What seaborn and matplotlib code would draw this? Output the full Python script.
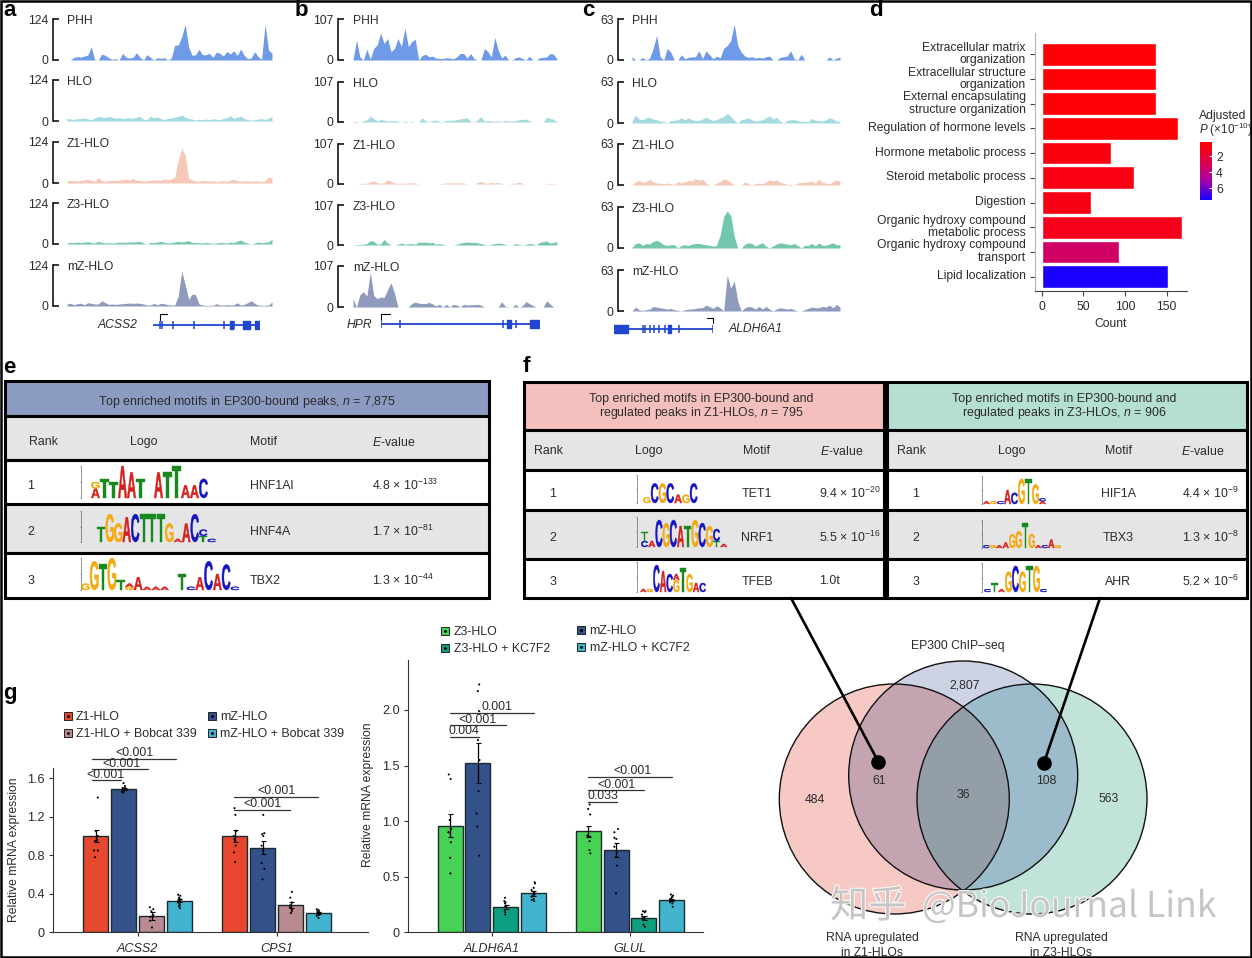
import re
import numpy as np
import pandas as pd
import seaborn as sns
import matplotlib
matplotlib.use("Agg")
import matplotlib.pyplot as plt
from matplotlib.patches import Rectangle, Circle, Polygon, PathPatch
from matplotlib.textpath import TextPath
from matplotlib.font_manager import FontProperties
from matplotlib.transforms import Affine2D, ScaledTranslation
from matplotlib.colors import LinearSegmentedColormap
import matplotlib.patheffects as pe

# ---------- data ----------
sample_names = ["PHH", "HLO", "Z1-HLO", "Z3-HLO", "mZ-HLO"]
track_colors = ["#6f9ae8", "#a5dbe0", "#f6c8b8", "#72c7ae", "#8f9bbd"]

a_max = 124
a_phh = [0,0,8,10,9,12,15,40,1,0,18,14,7,2,4,0,20,8,6,8,22,8,0,16,8,0,7,5,7,0,6,45,45,70,108,40,14,16,32,16,16,20,8,24,20,12,26,18,28,14,33,14,4,6,25,10,2,108,30,20]
a_hlo = [8,6,5,7,8,9,6,4,9,14,12,10,14,11,9,10,8,9,10,8,12,14,5,4,14,10,12,8,4,8,9,12,14,18,12,8,6,3,5,4,6,4,7,5,4,8,10,16,8,12,14,8,4,3,4,6,7,5,8,14]
a_z1 = [6,8,7,6,8,9,12,8,5,16,8,5,7,8,8,9,10,12,9,14,8,8,6,7,8,9,10,8,12,10,12,18,70,105,85,14,10,6,5,8,6,6,7,5,6,7,5,9,12,7,5,7,6,5,7,6,5,6,18,16]
a_z3 = [3,5,4,6,4,6,7,4,3,8,5,3,4,3,4,6,5,5,6,6,7,8,3,0,5,4,6,8,5,3,4,6,8,6,8,10,5,4,4,3,5,3,2,3,5,4,3,6,4,9,12,6,3,0,3,6,4,5,7,14]
a_mz = [6,8,4,7,8,4,10,8,6,6,16,10,5,6,5,6,7,8,9,8,9,8,6,3,3,8,4,8,7,4,3,3,30,105,65,20,36,34,6,3,2,2,2,7,3,3,4,3,4,10,3,5,10,16,8,3,2,2,3,12]

b_max = 107
b_phh = [0,52,8,0,28,3,30,40,70,43,56,22,30,56,35,84,35,48,54,0,12,15,8,10,5,4,4,6,5,3,8,17,17,5,17,4,0,0,30,22,8,59,26,5,13,0,0,6,8,4,0,10,0,0,6,7,8,17,15,2]
b_hlo = [1,2,0,3,6,16,9,3,7,5,3,3,4,2,0,3,0,2,0,0,11,3,0,4,5,2,0,4,5,5,6,8,10,11,2,0,5,15,2,4,3,2,3,1,4,3,2,4,6,7,8,3,0,0,0,0,13,10,7,1]
b_z1 = [0,0,1,2,2,6,8,3,2,3,11,7,3,2,2,2,3,3,3,0,0,0,0,0,0,0,2,3,3,3,3,3,3,0,0,0,4,7,3,2,4,3,4,1,0,0,2,2,5,2,0,0,0,0,0,0,1,2,1,1]
b_z3 = [0,1,2,2,4,12,10,2,3,15,5,0,0,2,5,2,3,4,2,8,7,8,6,7,2,4,2,0,0,0,2,5,7,8,7,7,6,4,2,0,2,4,5,4,2,0,0,4,2,0,2,4,3,0,7,9,11,5,7,9]
b_mz = [22,0,32,40,28,91,30,22,26,25,45,63,36,0,0,0,0,9,13,10,9,9,12,8,3,7,0,7,0,7,5,0,7,5,6,6,7,5,0,0,0,0,0,14,2,0,0,7,0,3,14,9,4,0,0,0,16,8,0,0]

c_max = 63
c_phh = [5,0,0,4,0,3,18,38,5,0,18,12,0,0,8,2,4,5,5,14,2,14,8,2,6,3,18,22,30,55,22,12,6,4,5,3,4,3,5,6,0,0,4,5,6,14,2,0,9,0,0,0,0,0,0,0,5,0,3,4]
c_hlo = [3,12,6,5,8,9,6,5,3,2,0,4,4,5,8,5,8,5,4,4,6,9,6,4,5,8,10,15,10,4,0,5,6,8,5,3,4,5,8,11,6,9,3,0,4,5,5,4,2,3,2,7,4,4,3,5,8,6,3,2]
c_z1 = [0,5,7,4,5,9,5,3,3,2,3,2,1,5,3,5,7,6,10,7,9,3,0,0,3,5,9,8,4,0,0,0,5,2,0,2,3,2,5,8,6,8,4,3,1,1,0,3,4,4,5,6,3,9,4,3,2,5,8,5]
c_z3 = [1,7,8,4,7,6,10,12,9,5,4,5,5,0,4,5,4,6,7,7,6,5,4,3,4,20,48,57,50,18,0,0,6,8,7,3,6,8,3,0,3,6,8,7,6,5,7,4,0,4,4,7,3,8,4,4,6,8,5,5]
c_mz = [0,6,2,1,2,3,7,6,5,4,3,4,2,1,0,2,3,3,4,5,5,9,7,4,8,5,0,55,35,46,15,0,5,7,6,3,7,3,7,3,0,3,5,4,3,4,2,0,0,2,4,6,5,5,7,6,9,5,10,6]

gene_a_exons = [7,8,19,38,66,76]
gene_a_blocks = [(72,3),(84,7),(95,4)]
gene_b_exons = [0,11.7,76.6,85]
gene_b_blocks = [(79,3),(93.7,6.3)]
gene_c_exons = [29,31,36,40,45,51.5,66,100]
gene_c_blocks = [(0,14),(54.5,3)]

go_terms = ["Extracellular matrix\norganization","Extracellular structure\norganization",
            "External encapsulating\nstructure organization","Regulation of hormone levels",
            "Hormone metabolic process","Steroid metabolic process","Digestion",
            "Organic hydroxy compound\nmetabolic process","Organic hydroxy compound\ntransport","Lipid localization"]
go_counts = [137,137,137,163,83,111,59,168,93,152]
go_padj = [0.1,0.1,0.1,0.15,0.5,0.6,0.7,0.9,3.2,7.5]

table_e_rows = [("1","HNF1Al",r"4.8 × 10$^{-133}$"),("2","HNF4A",r"1.7 × 10$^{-81}$"),("3","TBX2",r"1.3 × 10$^{-44}$")]
table_z1_rows = [("1","TET1",r"9.4 × 10$^{-20}$"),("2","NRF1",r"5.5 × 10$^{-16}$"),("3","TFEB","1.0t")]
table_z3_rows = [("1","HIF1A",r"4.4 × 10$^{-9}$"),("2","TBX3",r"1.3 × 10$^{-8}$"),("3","AHR",r"5.2 × 10$^{-6}$")]

# logo columns: letter + height in tenths of the full scale, bottom to top
logo_hnf1a = ["","A3G2","T6","T5","A10","A8","T6","","A8","T8","T10","A4","A4","C6",""]
logo_hnf4a = ["","","T5","G9","G6","A8","C9","T9","T9","T9","G6","A1","A6","C9","T2C2","C1"]
logo_tbx2 = ["G2","G9","T8","G10","T3","G1A1","A4","A1","A1","A1","","T5","C1","A4","C9","A5","C8","C1"]
logo_tet1 = ["G2","C7","G7","C7","A3","G3","C7"]
logo_nrf1 = ["C2T3","A2","C9","G8","C9","A7","T7","G9","C8","G7","T2C4","A1"]
logo_tfeb = ["A1","G1","C9","A7","C6","G4A2","T8","G6","A3","C3"]
logo_hif1a = ["A1","G1","C1","A5","C4","G9","T9","G7","A1C1"]
logo_tbx3 = ["C1","G1","A1","A2","G5","G6","T9","G5","A1","C1","A3","G1"]
logo_ahr = ["C1","T3","A1","G7","C9","G7","T9","G9","C1"]

venn_counts = ["484","61","2,807","36","108","563"]

g1_genes = ["ACSS2","CPS1"]
g1_groups = ["Z1-HLO","mZ-HLO","Z1-HLO + Bobcat 339","mZ-HLO + Bobcat 339"]
g1_colors = ["#e8472f","#34528a","#b98a90","#42b4cf"]
g1_means = [[1.0,1.49,0.17,0.33],[1.0,0.88,0.28,0.20]]
g1_sems = [[0.06,0.01,0.04,0.02],[0.06,0.07,0.03,0.015]]
g1_points = [[[1.40,1.05,1.0,.97,.95,.95,.85,.85,.78],[1.55,1.52,1.5,1.5,1.49,1.48,1.47,1.46,1.45],
              [.26,.24,.22,.18,.17,.16,.16,.12,.05],[.39,.38,.36,.35,.34,.33,.32,.31,.30,.29,.28,.27,.25]],
             [[1.29,1.22,1.05,1.0,.97,.95,.9,.83,.73],[1.22,1.03,1.02,1.0,.9,.85,.72,.66,.55],
              [.42,.36,.31,.28,.26,.25,.24,.22,.20],[.24,.23,.22,.21,.2,.19,.18,.17,.15]]]

g2_genes = ["ALDH6A1","GLUL"]
g2_groups = ["Z3-HLO","mZ-HLO","Z3-HLO + KC7F2","mZ-HLO + KC7F2"]
g2_colors = ["#47d155","#34528a","#0e9e80","#42b4cf"]
g2_means = [[0.96,1.52,0.23,0.35],[0.91,0.74,0.13,0.29]]
g2_sems = [[0.10,0.18,0.02,0.02],[0.05,0.06,0.02,0.01]]
g2_points = [[[1.42,1.38,1.01,.93,.9,.9,.81,.67,.53],[2.23,2.17,1.99,1.73,1.55,1.27,1.07,.95,.69],
              [.31,.28,.27,.26,.24,.23,.2,.18,.16],[.45,.44,.4,.38,.36,.35,.34,.33,.32,.3,.29,.28]],
             [[1.15,1.11,1.06,.87,.86,.86,.82,.74,.71],[.93,.9,.85,.84,.77,.72,.68,.6,.35],
              [.19,.19,.18,.16,.14,.13,.12,.07,.05],[.34,.33,.32,.31,.3,.29,.29,.28,.28,.27,.26,.23]]]

# ---------- set-up ----------
sns.set_theme(style="white")
plt.rcParams["font.family"] = ["Liberation Sans", "DejaVu Sans"]
plt.rcParams["mathtext.fontset"] = "custom"
plt.rcParams["mathtext.rm"] = "Liberation Sans"
plt.rcParams["mathtext.it"] = "Liberation Sans:italic"
plt.rcParams["mathtext.bf"] = "Liberation Sans:bold"
plt.rcParams["mathtext.default"] = "regular"
np.random.seed(4)

W, H = 1252, 958
FS = 8.75
TS = 8.9
DARK = "#2b2b2b"
fig = plt.figure(figsize=(W / 100, H / 100), dpi=100, facecolor="white")

def axpx(x0, y0, x1, y1, **kw):
    return fig.add_axes([x0 / W, 1 - y1 / H, (x1 - x0) / W, (y1 - y0) / H], **kw)

ov = axpx(0, 0, W, H)
ov.set_xlim(0, W)
ov.set_ylim(H, 0)
ov.axis("off")

def txt(x, y, s, ha="center", va="center", size=FS, **kw):
    kw.setdefault("color", DARK)
    dy = 0 if "rotation" in kw else 1.2
    return ov.text(x, y + dy, s, ha=ha, va=va, fontsize=size, **kw)

# ---------- panel letters ----------
for lab, x, y in [("a",3,9),("b",295,9),("c",582,9),("d",869,9),("e",3,366),("f",523,365),("g",3,692)]:
    txt(x, y, lab, ha="left", size=16, weight="bold", color="black")

# ---------- tracks ----------
def tracks(series, ymax, x_axis, x_start, x_end, tops, bases):
    for vals, name, col, top, base in zip(series, sample_names, track_colors, tops, bases):
        ax = axpx(x_axis, top, x_end, base)
        ax.patch.set_alpha(0)
        n = len(vals)
        pos = np.arange(n)
        ax.fill_between(pos, vals, 0, color=col, lw=0)
        span = (n - 1) / (x_end - x_start)
        ax.set_xlim(-(x_start - x_axis) * span, n - 1)
        ax.set_ylim(0, ymax)
        ax.set_xticks([])
        ax.set_yticks([0, ymax])
        ax.set_yticklabels(["0", str(ymax)], fontsize=FS, color=DARK)
        ax.tick_params(axis="y", direction="in", length=4, width=1.1, pad=3, color="black", left=True)
        for s in ["top", "right", "bottom"]:
            ax.spines[s].set_visible(False)
        ax.spines["left"].set_linewidth(1.1)
        ax.spines["left"].set_color("black")
        txt(x_start, top + 1, name, ha="left")

tracks([a_phh,a_hlo,a_z1,a_z3,a_mz], a_max, 53, 67, 272, [19,80,142,203,265], [60,121,183,244,306])
tracks([b_phh,b_hlo,b_z1,b_z3,b_mz], b_max, 338, 353, 557, [19,82,144,205,266], [60,122,184,245,307])
tracks([c_phh,c_hlo,c_z1,c_z3,c_mz], c_max, 618, 632, 840, [19,82,144,207,270], [60,123,185,248,311])

GENE = "#2146d0"
def gene(x0, x1, yc, exons, blocks):
    ax = axpx(x0, yc - 6, x1, yc + 6)
    ax.axis("off")
    ax.set_xlim(0, 100)
    ax.set_ylim(-1, 1)
    ax.hlines(0, 0, 100, color=GENE, lw=1.3)
    ax.vlines(exons, -0.6, 0.6, color=GENE, lw=1.1)
    ax.broken_barh(blocks, (-0.6, 1.2), color=GENE)

gene(153, 260, 325, gene_a_exons, gene_a_blocks)
gene(381, 540, 324, gene_b_exons, gene_b_blocks)
gene(614, 713, 329, gene_c_exons, gene_c_blocks)
txt(98, 324, "ACSS2", ha="left", style="italic")
txt(347, 324, "HPR", ha="left", style="italic")
txt(729, 328, "ALDH6A1", ha="left", style="italic")
for x0, x1, y0, y1 in [(160,167,320,314),(381,390,320,314),(713,707,323,318)]:
    ov.plot([x0, x0, x1], [y0, y1, y1], color="black", lw=0.8)

# ---------- panel d ----------
cmap = LinearSegmentedColormap.from_list("rb", ["#ff0000", "#e0004a", "#a800a8", "#1a00ff"])
pmax = 7.5
go_colors = [cmap(p / pmax) for p in go_padj]
axd = axpx(1035, 33, 1187, 291)
axd.patch.set_alpha(0)
dfd = pd.DataFrame({"term": go_terms, "count": go_counts})
sns.barplot(data=dfd, y="term", x="count", hue="term", order=go_terms, hue_order=go_terms,
            palette=go_colors, saturation=1, width=0.92, legend=False, orient="h", ax=axd)
axd.set_xlim(-8, 174.4)
axd.set_ylim(9.58, -0.862)
axd.set_xticks([0, 50, 100, 150])
axd.set_xlabel("Count", fontsize=FS, color=DARK, labelpad=3.5)
axd.set_ylabel("")
axd.tick_params(axis="x", length=3.5, width=0.8, labelsize=FS, color="#444", labelcolor=DARK, bottom=True, pad=3.5)
axd.tick_params(axis="y", length=3.5, width=0.8, labelsize=FS, color="#444", labelcolor=DARK, left=True, pad=3.2)
lift = ScaledTranslation(0, 2 / 100, fig.dpi_scale_trans)
for lbl in axd.get_yticklabels():
    lbl.set_linespacing(1.05)
    lbl.set_multialignment("right")
    lbl.set_transform(lbl.get_transform() + lift)
for s in ["top", "right"]:
    axd.spines[s].set_visible(False)
axd.spines["left"].set_color("#b5b5b5")
axd.spines["bottom"].set_color("#444")
axd.spines["left"].set_linewidth(0.8)
axd.spines["bottom"].set_linewidth(0.8)

axc = axpx(1200, 142, 1212, 200)
axc.imshow(np.linspace(0, 1, 128).reshape(-1, 1), cmap=cmap, aspect="auto", extent=[0, 1, pmax, 0.2])
axc.set_xticks([])
axc.yaxis.tick_right()
axc.set_yticks([2, 4, 6])
axc.tick_params(axis="y", direction="in", length=2.5, width=0.8, color="white", labelsize=FS, labelcolor=DARK, pad=3, right=True)
for s in axc.spines.values():
    s.set_visible(False)
txt(1199, 115, "Adjusted", ha="left")
txt(1199, 129, r"$\mathit{P}$ (×10$^{-10}$)", ha="left", size=8.4)

# ---------- tables ----------
def logo_letter(x, ybase, w, h, ch):
    tp = TextPath((0, 0), ch, size=1, prop=FontProperties(family="Liberation Sans", weight="bold"))
    bb = tp.get_extents()
    tr = Affine2D().translate(-bb.x0, -bb.y0).scale(w / bb.width, -h / bb.height).translate(x, ybase)
    col = {"A": "#d6201c", "C": "#1414c4", "G": "#f5a90f", "T": "#17891f"}[ch]
    ov.add_patch(PathPatch(tr.transform_path(tp), fc=col, ec=col, lw=0.3, zorder=3))

def logo(cols, x_axis, x0, cw, ybase, hfull):
    ov.plot([x_axis, x_axis], [ybase, ybase - hfull], color="#666", lw=0.5, zorder=3)
    for frac in (0, .5, 1):
        ov.plot([x_axis - 1.5, x_axis], [ybase - hfull * frac] * 2, color="#666", lw=0.4, zorder=3)
    for i, col in enumerate(cols):
        y = ybase
        for ch, val in re.findall(r"([ACGT])(\d+)", col):
            h = hfull * int(val) / 10
            logo_letter(x0 + i * cw + 0.2, y, cw - 0.4, h, ch)
            y -= h

def box(x0, y0, x1, y1, fc):
    ov.add_patch(Rectangle((x0, y0), x1 - x0, y1 - y0, fc=fc, ec="black", lw=2.2, zorder=2))

GREY = "#e5e5e5"
box(5, 381, 489, 416, "#8c9bc2")
box(5, 416, 489, 460, GREY)
box(5, 460, 489, 504, "white")
box(5, 504, 489, 553, GREY)
box(5, 553, 489, 598, "white")
txt(247, 401, r"Top enriched motifs in EP300-bound peaks, $\mathit{n}$ = 7,875", zorder=4, size=TS)
for x, s, ha in [(29,"Rank","left"),(144,"Logo","center"),(250,"Motif","left"),(372,r"$\mathit{E}$-value","left")]:
    txt(x, 441, s, ha=ha, zorder=4, size=TS)
for y, row in zip([485, 531, 580], table_e_rows):
    txt(31, y, row[0], zorder=4, size=TS)
    txt(250, y, row[1], ha="left", zorder=4, size=TS)
    txt(372, y - 1, row[2], ha="left", zorder=4, size=TS)
logo(logo_hnf1a, 81, 82, 9, 498, 32)
logo(logo_hnf4a, 81, 80, 8.5, 542, 31)
logo(logo_tbx2, 81, 81, 8.8, 590, 32)

def ftable(x0, x1, fc, l1, l2, xs, rows):
    box(x0, 382, x1, 430, fc)
    box(x0, 430, x1, 470, GREY)
    box(x0, 470, x1, 510, "white")
    box(x0, 510, x1, 559, GREY)
    box(x0, 559, x1, 598, "white")
    xc = (x0 + x1) / 2 - 3
    txt(xc, 398, l1, zorder=4, size=TS)
    txt(xc, 412, l2, zorder=4, size=TS)
    for x, s in zip(xs[:4], ["Rank", "Logo", "Motif", r"$\mathit{E}$-value"]):
        txt(x, 450, s, zorder=4, size=TS)
    for y, row in zip([493, 537, 581], rows):
        txt(xs[0] + 5, y, row[0], zorder=4, size=TS)
        txt(xs[2], y, row[1], zorder=4, size=TS)
        txt(xs[4], y - 1, row[2], ha="left", zorder=4, size=TS)

ftable(524, 884, "#f4bfbc", "Top enriched motifs in EP300-bound and",
       r"regulated peaks in Z1-HLOs, $\mathit{n}$ = 795", [548, 649, 757, 842, 819], table_z1_rows)
ftable(887, 1247, "#b5dfd3", "Top enriched motifs in EP300-bound and",
       r"regulated peaks in Z3-HLOs, $\mathit{n}$ = 906", [911, 1012, 1118, 1203, 1182], table_z3_rows)
logo(logo_tet1, 637, 643, 7.8, 503, 28)
logo(logo_nrf1, 637, 641, 7.2, 547, 30)
logo(logo_tfeb, 637, 640, 6.6, 592, 30)
logo(logo_hif1a, 982, 983, 7, 504, 28)
logo(logo_tbx3, 982, 983, 6.5, 548, 28)
logo(logo_ahr, 982, 984, 7, 592, 29)

# ---------- venn ----------
cz1 = (894.3, 799); cz3 = (1032, 799); cep = (963.2, 775.5)
r1 = 115; r3 = 115; re_ = 114.5
ov.add_patch(Circle(cz1, r1, fc="#f6c9c5", ec="none", zorder=1))
ov.add_patch(Circle(cz3, r3, fc="#c1e3da", ec="none", zorder=1))
ov.add_patch(Circle(cep, re_, fc="#cdd3e3", ec="none", zorder=1.1))
clipe = Circle(cep, re_, transform=ov.transData)
p1 = Circle(cz1, r1, fc="#c4a4b0", ec="none", zorder=1.2); ov.add_patch(p1); p1.set_clip_path(clipe)
p3 = Circle(cz3, r3, fc="#9dbccb", ec="none", zorder=1.2); ov.add_patch(p3); p3.set_clip_path(clipe)
th = np.linspace(0, 2 * np.pi, 721)
c1pts = np.c_[cz1[0] + r1 * np.cos(th), cz1[1] + r1 * np.sin(th)]
c3pts = np.c_[cz3[0] + r3 * np.cos(th), cz3[1] + r3 * np.sin(th)]
in3 = c1pts[(c1pts[:, 0] - cz3[0]) ** 2 + (c1pts[:, 1] - cz3[1]) ** 2 < r3 ** 2]
in1 = c3pts[(c3pts[:, 0] - cz1[0]) ** 2 + (c3pts[:, 1] - cz1[1]) ** 2 < r1 ** 2]
right_arc = in3[np.argsort(in3[:, 1])]          # right edge of the lens, top to bottom
left_arc = in1[np.argsort(-in1[:, 1])]          # left edge of the lens, bottom to top
lp = Polygon(np.r_[right_arc, left_arc], closed=True, fc="#939ea8", ec="none", zorder=1.3)
ov.add_patch(lp)
lp.set_clip_path(Circle(cep, re_, transform=ov.transData))
for c, r in [(cz1, r1), (cz3, r3), (cep, re_)]:
    ov.add_patch(Circle(c, r, fc="none", ec="#111", lw=1.0, zorder=1.4))
txt(958, 645, "EP300 ChIP–seq")
for (x, y), s in zip([(815,799),(879,780),(965,684),(963,794),(1046,780),(1109,798)], venn_counts):
    txt(x, y, s, zorder=5)
txt(872, 937, "RNA upregulated")
txt(872, 952, "in Z1-HLOs")
txt(1061, 937, "RNA upregulated")
txt(1061, 952, "in Z3-HLOs")
ov.plot([791, 878.3], [598, 761.7], color="black", lw=1.9, zorder=5)
ov.plot([1100, 1044], [598, 762.7], color="black", lw=1.9, zorder=5)
ov.plot([878.3, 1044], [761.7, 762.7], ls="none", marker="o", ms=10.5, color="black", mew=0, zorder=5)

# ---------- panel g ----------
def grouped(ax, genes, groups, colors, means, sems, points):
    ax.patch.set_alpha(0)
    rows = [(g, gr, means[i][j]) for i, g in enumerate(genes) for j, gr in enumerate(groups)]
    dfb = pd.DataFrame(rows, columns=["gene", "group", "expr"])
    sns.barplot(data=dfb, x="gene", y="expr", hue="group", order=genes, hue_order=groups,
                palette=colors, saturation=1, width=0.8, gap=0.1, edgecolor="#1c2a30", linewidth=1.0,
                errorbar=None, legend=False, ax=ax)
    bars = sorted(ax.patches, key=lambda p: p.get_x())
    xs = [b.get_x() + b.get_width() / 2 for b in bars]
    ys = [m for row in means for m in row]
    es = [e for row in sems for e in row]
    ax.errorbar(xs, ys, yerr=es, fmt="none", ecolor="black", elinewidth=0.9, capsize=1.8, capthick=0.8, zorder=5)
    rows = [(g, gr, v) for i, g in enumerate(genes) for j, gr in enumerate(groups) for v in points[i][j]]
    dfp = pd.DataFrame(rows, columns=["gene", "group", "expr"])
    sns.stripplot(data=dfp, x="gene", y="expr", hue="group", order=genes, hue_order=groups,
                  palette=["black"] * 4, dodge=True, jitter=0.055, size=1.5, legend=False, zorder=6, ax=ax)
    ax.set_xlabel("")
    ax.set_ylabel("")
    ax.tick_params(axis="y", length=3, width=0.8, labelsize=FS + 0.3, color="#333", labelcolor=DARK, left=True, pad=3)
    ax.tick_params(axis="x", length=3, width=0.8, labelsize=FS + 0.3, color="#333", labelcolor=DARK, bottom=True, pad=4.5)
    for lbl in ax.get_xticklabels():
        lbl.set_style("italic")
    for s in ["top", "right"]:
        ax.spines[s].set_visible(False)
    ax.spines["left"].set_color("#333")
    ax.spines["bottom"].set_color("#333")
    ax.spines["left"].set_linewidth(0.8)
    ax.spines["bottom"].set_linewidth(0.8)

ax1 = axpx(53.3, 768, 368, 932.3)
grouped(ax1, g1_genes, g1_groups, g1_colors, g1_means, g1_sems, g1_points)
ax1.set_xlim(-0.607, 1.657)
ax1.set_ylim(0, (932.3 - 768) / 96.25)
ax1.set_yticks([0, 0.4, 0.8, 1.2, 1.6])
ax1.set_yticklabels(["0", "0.4", "0.8", "1.2", "1.6"])

ax2 = axpx(408.3, 660, 703, 932.3)
grouped(ax2, g2_genes, g2_groups, g2_colors, g2_means, g2_sems, g2_points)
ax2.set_xlim(-0.603, 1.528)
ax2.set_ylim(0, (932.3 - 660) / 111.15)
ax2.set_yticks([0, 0.5, 1.0, 1.5, 2.0])
ax2.set_yticklabels(["0", "0.5", "1.0", "1.5", "2.0"])

txt(14, 850, "Relative mRNA expression", rotation=90)
txt(367.5, 795, "Relative mRNA expression", rotation=90)

def legend_item(x, y, s, col):
    ov.add_patch(Rectangle((x, y - 4), 8, 8, fc=col, ec="#222", lw=0.7, zorder=4))
    ov.plot([x + 4], [y], marker="o", ms=1.1, color="black", zorder=5)
    txt(x + 12.5, y, s, ha="left", size=FS + 0.2)

for (x, y), s, c in zip([(63.5,716),(208,716),(63.5,733),(208,733)], g1_groups, g1_colors):
    legend_item(x, y, s, c)
for (x, y), s, c in zip([(441,631),(577,630),(441,648),(577,647)], g2_groups, g2_colors):
    legend_item(x, y, s, c)

for x0, x1, y, xt, yt, s in [(92.3,176,759,135,753,"<0.001"),(92.3,148.3,769.3,121.7,764,"<0.001"),
                             (92.3,120.7,780,105.7,775,"<0.001"),(234.3,317.7,796.7,276,791,"<0.001"),
                             (234.3,290,810,262.7,804,"<0.001"),
                             (450,534,712.7,497,707,"0.001"),(450,506,724.7,477.7,719.5,"<0.001"),
                             (450,479,736.7,464.3,731,"0.004"),(588.3,672.3,776.7,632.3,771,"<0.001"),
                             (588.3,644.3,790,616.7,784.5,"<0.001"),(588.3,617.3,801.7,603.3,796,"0.033")]:
    ov.plot([x0, x1], [y, y], color="#333", lw=0.9, zorder=3)
    txt(xt, yt - 1, s, zorder=4, size=FS + 0.2)

# ---------- watermark and frame ----------
for x, s, size in [(830, "知乎", 27.5), (922, "@BioJournal Link", 25.6)]:
    wm = ov.text(x, 907, s, ha="left", va="center", fontsize=size, color="#c4c4c4", alpha=0.95,
                 family=["Noto Sans CJK SC", "DejaVu Sans"], zorder=8)
    wm.set_path_effects([pe.withStroke(linewidth=1.4, foreground="white")])
ov.add_patch(Rectangle((1.2, 1.2), W - 2.4, H - 2.4, fc="none", ec="black", lw=1.8, zorder=9, clip_on=False))

fig.savefig("out.png", dpi=100, facecolor="white")
